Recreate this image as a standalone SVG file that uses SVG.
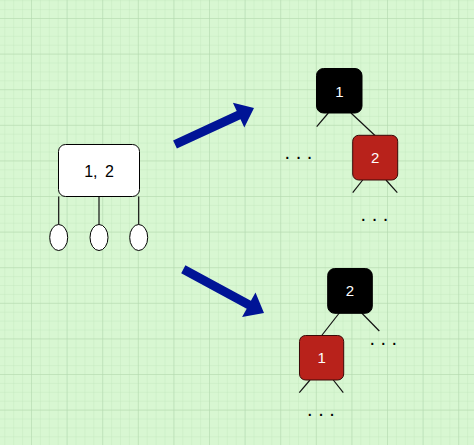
<svg xmlns="http://www.w3.org/2000/svg" width="474" height="445" viewBox="0 0 474 445">
<defs>
<pattern id="minor" x="-3.6" y="1.2" width="8.9" height="8.9" patternUnits="userSpaceOnUse">
<path d="M8.9 0V8.9M0 8.9H8.9" fill="none" stroke="#c2e8bd" stroke-width="0.8"/>
</pattern>
<pattern id="major" x="-3.6" y="-16.6" width="35.6" height="35.6" patternUnits="userSpaceOnUse">
<path d="M35.6 0V35.6M0 35.6H35.6" fill="none" stroke="#b3d8ae" stroke-width="1"/>
</pattern>
<style>
.lbl{font-family:"Liberation Sans",Arial,sans-serif;text-anchor:middle}
.edge{stroke:#111;stroke-width:1.2;fill:none}
.dots{font-family:"Liberation Sans",Arial,sans-serif;font-size:20px;text-anchor:middle;fill:#000}
.blk{fill:#000;stroke:#000}
.red{fill:#b8221b;stroke:#3a0a08;stroke-width:1}
.big{fill:#001496}
</style>
</defs>
<rect width="474" height="445" fill="#d8f7d2"/>
<rect width="474" height="445" fill="url(#minor)"/>
<rect width="474" height="445" fill="url(#major)"/>

<g id="connectors">
<line class="edge" x1="58.7" y1="196.5" x2="58.7" y2="224.5"/>
<line class="edge" x1="99" y1="196.5" x2="99" y2="224.5"/>
<line class="edge" x1="138.7" y1="196.5" x2="138.7" y2="224.5"/>
<line class="edge" x1="328.3" y1="113" x2="316.7" y2="126.7"/>
<line class="edge" x1="351" y1="113" x2="375" y2="135.5"/>
<line class="edge" x1="362.7" y1="180" x2="352.7" y2="192.7"/>
<line class="edge" x1="386" y1="180" x2="397.3" y2="192.7"/>
<line class="edge" x1="339.3" y1="313" x2="321.7" y2="335.5"/>
<line class="edge" x1="361.7" y1="313" x2="379.3" y2="331"/>
<line class="edge" x1="310" y1="380" x2="299.3" y2="392.7"/>
<line class="edge" x1="333.3" y1="380" x2="343.3" y2="392.7"/>
</g>

<g id="arrow-up">
<polygon class="big" points="173.1,140.4 236.7,111.0 232.9,102.8 254,108 244.3,127.4 240.5,119.2 176.9,148.6"/>
</g>
<g id="arrow-down">
<polygon class="big" points="185.4,265.3 250.9,300.7 255.5,292.4 264,313 242.1,317.0 246.7,308.7 181.2,273.3"/>
</g>

<g id="node-12">
<rect x="58.5" y="144.5" width="81" height="52" rx="7" fill="#fff" stroke="#000" stroke-width="1"/>
<text class="lbl" x="99" y="176.5" font-size="16" word-spacing="3">1, 2</text>
</g>
<g id="leaf-a"><ellipse cx="58.7" cy="237.5" rx="9" ry="13" fill="#fff" stroke="#000"/></g>
<g id="leaf-b"><ellipse cx="99" cy="237.5" rx="9" ry="13" fill="#fff" stroke="#000"/></g>
<g id="leaf-c"><ellipse cx="138.7" cy="237.5" rx="9" ry="13" fill="#fff" stroke="#000"/></g>

<g id="t1-n1">
<rect class="blk" x="316.5" y="68.5" width="45.5" height="44.5" rx="7"/>
<text class="lbl" x="339.3" y="96.5" font-size="15" fill="#fff">1</text>
</g>
<g id="t1-n2">
<rect class="red" x="352.7" y="135.3" width="45" height="44.7" rx="6"/>
<text class="lbl" x="375.2" y="163" font-size="15" fill="#fff">2</text>
</g>
<g id="t1-dots-left"><text class="dots" x="298.5" y="158.6">. . .</text></g>
<g id="t1-dots-bottom"><text class="dots" x="374.5" y="220.6">. . .</text></g>

<g id="t2-n2">
<rect class="blk" x="327.7" y="268.5" width="44.6" height="44.8" rx="7"/>
<text class="lbl" x="350" y="296" font-size="15" fill="#fff">2</text>
</g>
<g id="t2-n1">
<rect class="red" x="299.5" y="335.5" width="44.2" height="44.5" rx="6"/>
<text class="lbl" x="321.6" y="363" font-size="15" fill="#fff">1</text>
</g>
<g id="t2-dots-right"><text class="dots" x="383.3" y="344.6">. . .</text></g>
<g id="t2-dots-bottom"><text class="dots" x="321" y="415.6">. . .</text></g>
</svg>
